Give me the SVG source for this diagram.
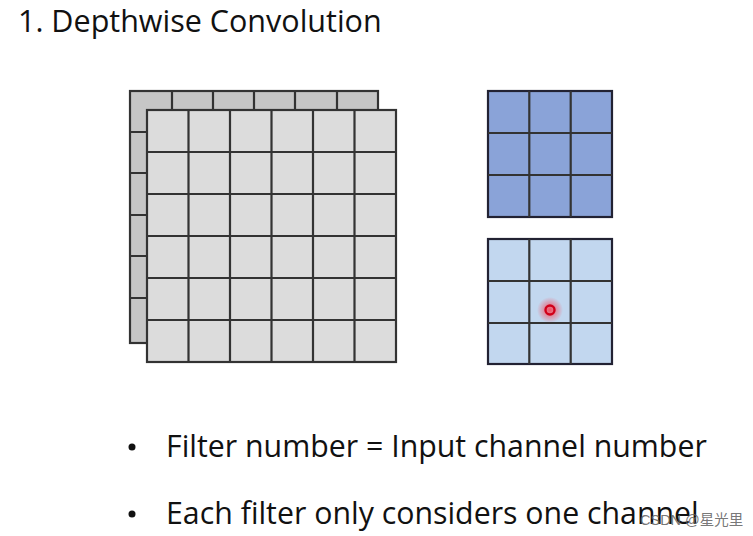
<svg xmlns="http://www.w3.org/2000/svg" width="753" height="536" viewBox="0 0 753 536">
<style>
.t{font-family:"Open Sans","Liberation Sans",sans-serif;fill:#111}
.g{stroke:#333;stroke-width:2.2;fill:none}
</style>
<defs>
<radialGradient id="glow"><stop offset="0" stop-color="#ff3040" stop-opacity="0.8"/><stop offset="1" stop-color="#ff3040" stop-opacity="0"/></radialGradient>
</defs>
<rect width="753" height="536" fill="#fff"/>
<text class="t" x="18" y="32" font-size="30.5">1. Depthwise Convolution</text>
<g id="input-back">
<rect x="130" y="91" width="248" height="252" fill="#c6c6c6" stroke="#333" stroke-width="2.2"/>
<path class="g" d="M172 91V110M213 91V110M254 91V110M295 91V110M337 91V110M130 132H147M130 173H147M130 215H147M130 256H147M130 298H147"/>
</g>
<g id="input-front">
<rect x="147" y="110" width="249" height="252" fill="#dcdcdc" stroke="#333" stroke-width="2.2"/>
<path class="g" d="M188.5 110V362M230 110V362M271.5 110V362M313 110V362M354.5 110V362M147 152H396M147 194H396M147 236H396M147 278H396M147 320H396"/>
</g>
<g id="filter-dark">
<rect x="488" y="91" width="124" height="126" fill="#8aa3d8" stroke="#223" stroke-width="2.2"/>
<path class="g" stroke="#223" d="M529.3 91V217M570.7 91V217M488 133H612M488 175H612"/>
</g>
<g id="filter-light">
<rect x="488" y="239" width="124" height="125" fill="#c2d7ef" stroke="#223" stroke-width="2.2"/>
<path class="g" stroke="#223" d="M529.3 239V364M570.7 239V364M488 281H612M488 323H612"/>
<circle cx="550" cy="310" r="13" fill="url(#glow)"/>
<circle cx="550" cy="310" r="4.5" fill="none" stroke="#d0001a" stroke-width="2.4"/>
</g>
<g id="bullets">
<circle cx="132" cy="447" r="3.5" fill="#111"/>
<text class="t" x="166" y="457" font-size="30.3">Filter number = Input channel number</text>
<circle cx="132" cy="514" r="3.5" fill="#111"/>
<text class="t" x="166" y="524" font-size="30.3">Each filter only considers one channel</text>
</g>
<text x="640" y="525" font-size="14.5" font-family="'Liberation Sans','Noto Sans CJK SC',sans-serif" fill="#666" fill-opacity="0.9">CSDN @星光里</text>
</svg>
